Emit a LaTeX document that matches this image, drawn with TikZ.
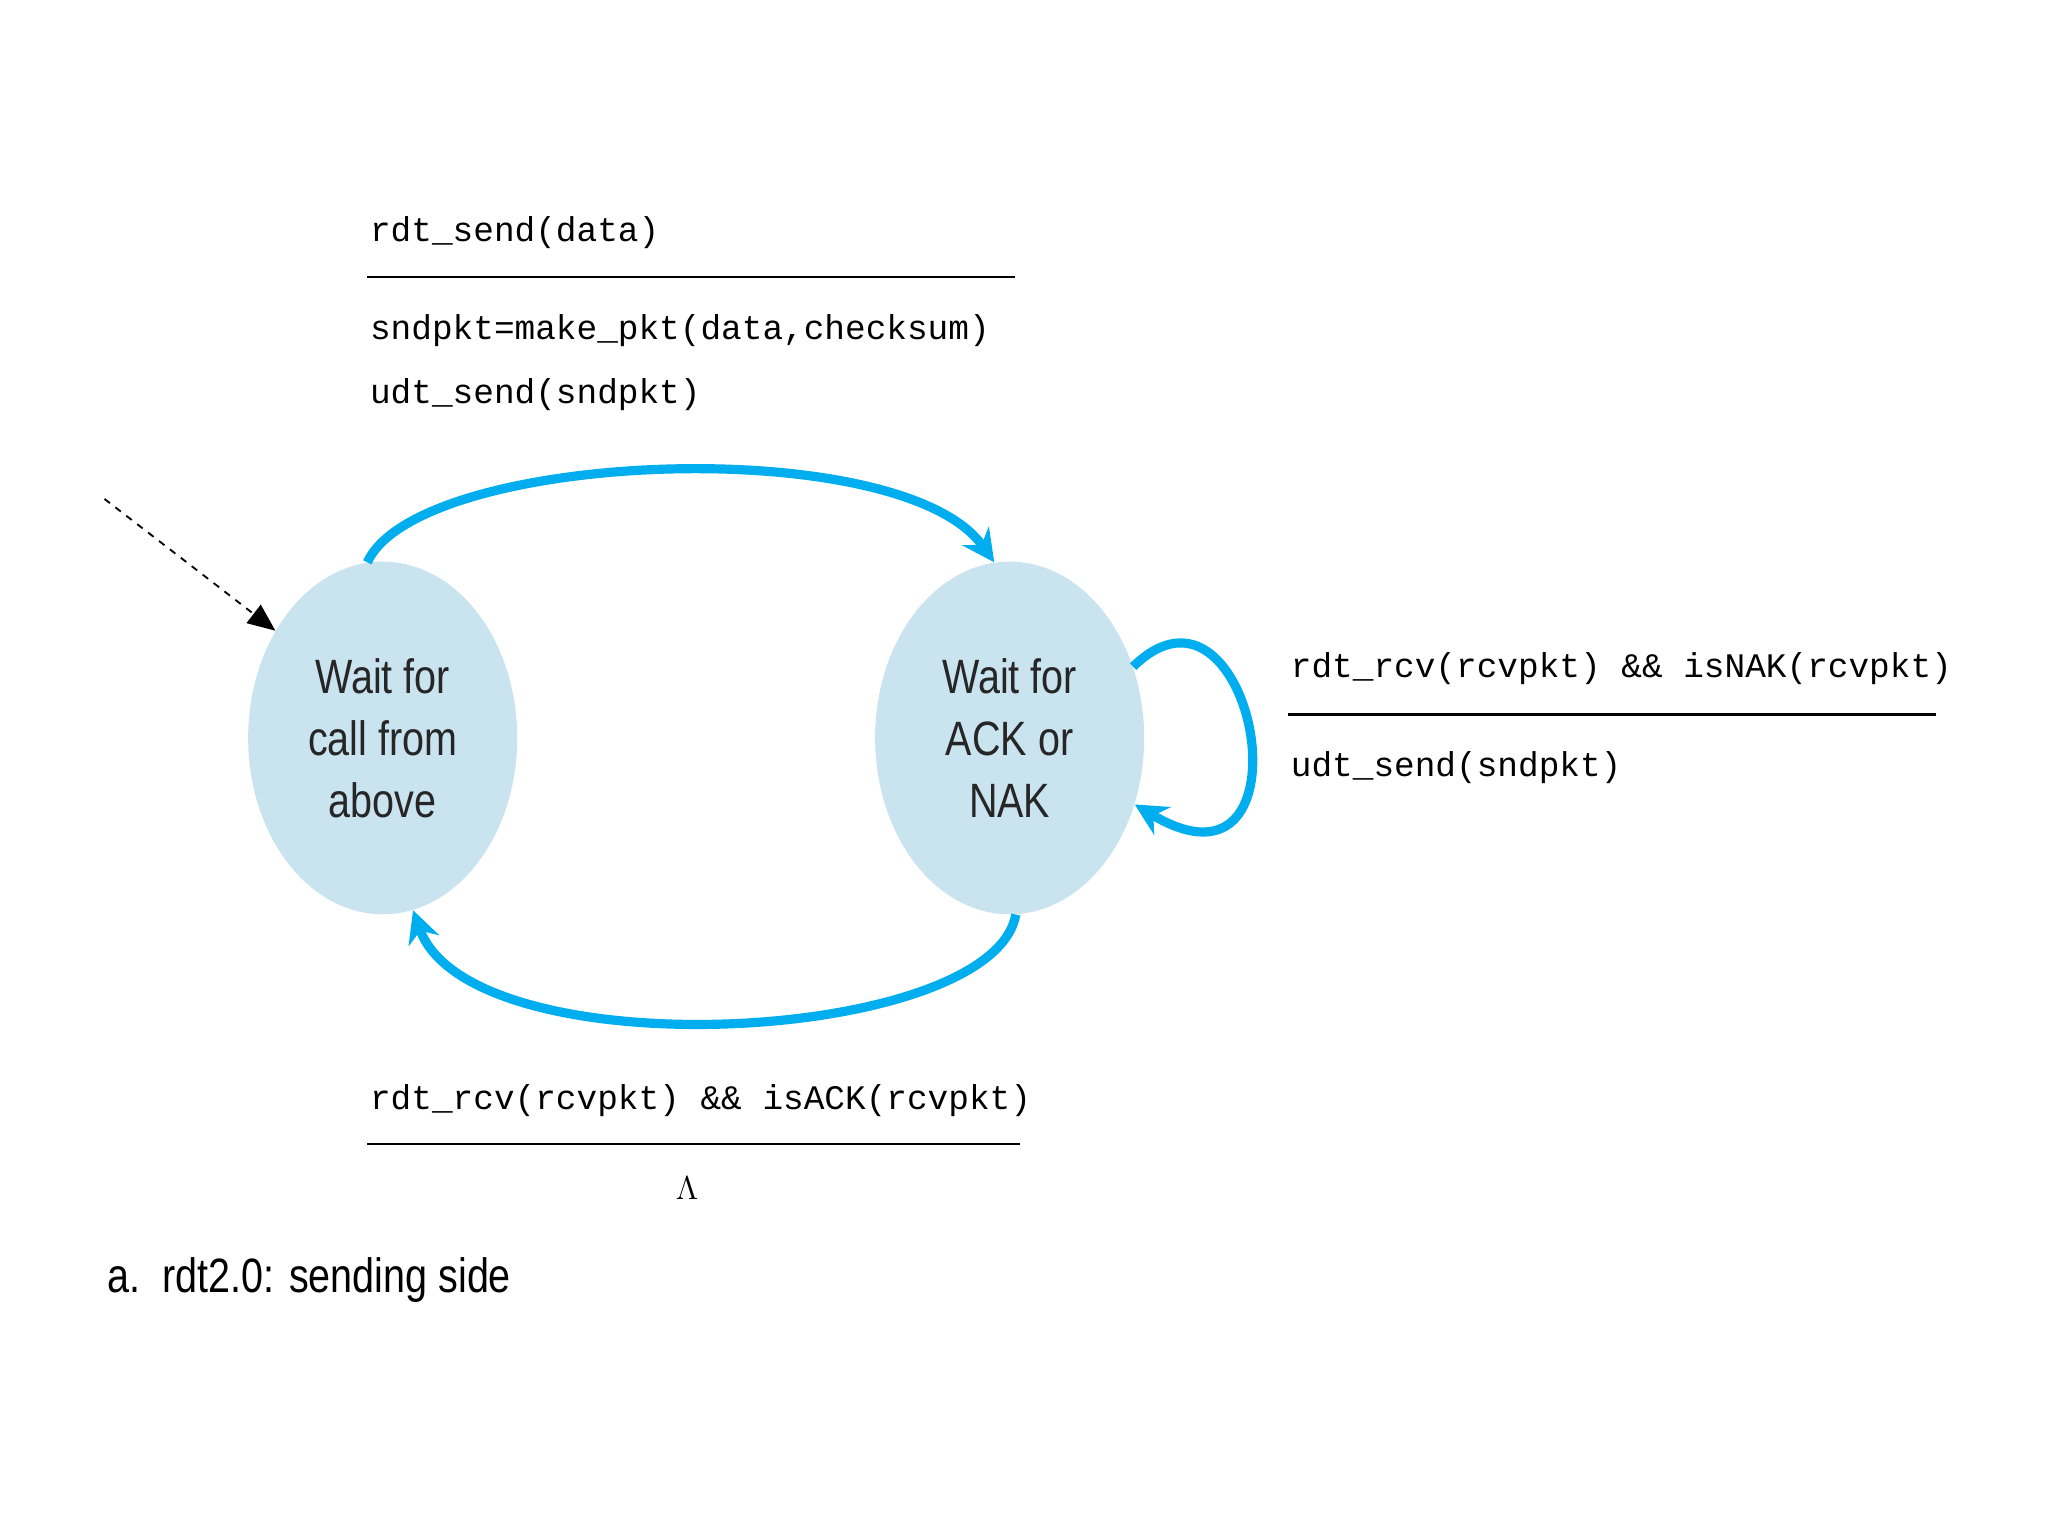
\documentclass[tikz,border=0pt]{standalone}
\usepackage{fontspec}
\setmainfont{Liberation Sans}
\newfontfamily\statefont[FakeStretch=0.82]{Liberation Sans}
\newfontfamily\codefont{Liberation Mono}
\usetikzlibrary{shapes.geometric,arrows.meta}
\begin{document}
\begin{tikzpicture}[x=0.02cm,y=-0.02cm,
  state/.style={ellipse,fill=stateblue,minimum width=206*0.02cm,minimum height=270*0.02cm,inner sep=0pt,align=center,font=\statefont\fontsize{21}{27}\selectfont,text=black!85},
  code/.style={anchor=west,inner sep=0pt,font=\codefont\fontsize{15}{18}\selectfont},
  trans/.style={draw=transblue,line width=4pt,-{Stealth[length=14pt,width=14pt]}},
  rule/.style={draw=black,line width=1pt}]
\definecolor{stateblue}{RGB}{201,227,239}
\definecolor{transblue}{RGB}{0,174,239}
\useasboundingbox (0,0) rectangle (1568,1176);
\node[state] (w1) at (293,565) {Wait for\\call from\\above};
\node[state] (w2) at (773,565) {Wait for\\ACK or\\NAK};
\coordinate (init) at (80,382);
\draw[dashed,line width=0.8pt,-{Triangle[length=12pt,width=10pt]}] (init) -- (w1.135);
% top
\draw[trans] (w1.95) .. controls (320,345) and (690,330) .. (w2.95);
% bottom
\draw[trans] (w2.-88) .. controls (760,800) and (360,820) .. (w1.-80);
% self loop
\draw[trans] (w2.30) .. controls (960,420) and (1010,700) .. (w2.-28);
\node[code] (t1) at (283,178) {rdt\_send(data)};
\coordinate (r1a) at (281,212); \coordinate (r1b) at (777,212);
\draw[rule] (r1a) -- (r1b);
\node[code] (t2) at (283,253) {sndpkt=make\_pkt(data,checksum)};
\node[code] (t3) at (283,302) {udt\_send(sndpkt)};
\node[code] (n1) at (988,512) {rdt\_rcv(rcvpkt) \&\& isNAK(rcvpkt)};
\coordinate (r2a) at (986,547); \coordinate (r2b) at (1482,547);
\draw[rule] (r2a) -- (r2b);
\node[code] (n2) at (988,588) {udt\_send(sndpkt)};
\node[code] (b1) at (283,843) {rdt\_rcv(rcvpkt) \&\& isACK(rcvpkt)};
\coordinate (r3a) at (281,876); \coordinate (r3b) at (781,876);
\draw[rule] (r3a) -- (r3b);
\node[inner sep=0pt,font=\fontsize{14}{16}\selectfont] (lam) at (526,910) {$\Lambda$};
\node[anchor=west,inner sep=0pt,font=\statefont\fontsize{21}{25}\selectfont] (cap) at (82,980) {a.\ \ rdt2.0: sending side};
\end{tikzpicture}
\end{document}
